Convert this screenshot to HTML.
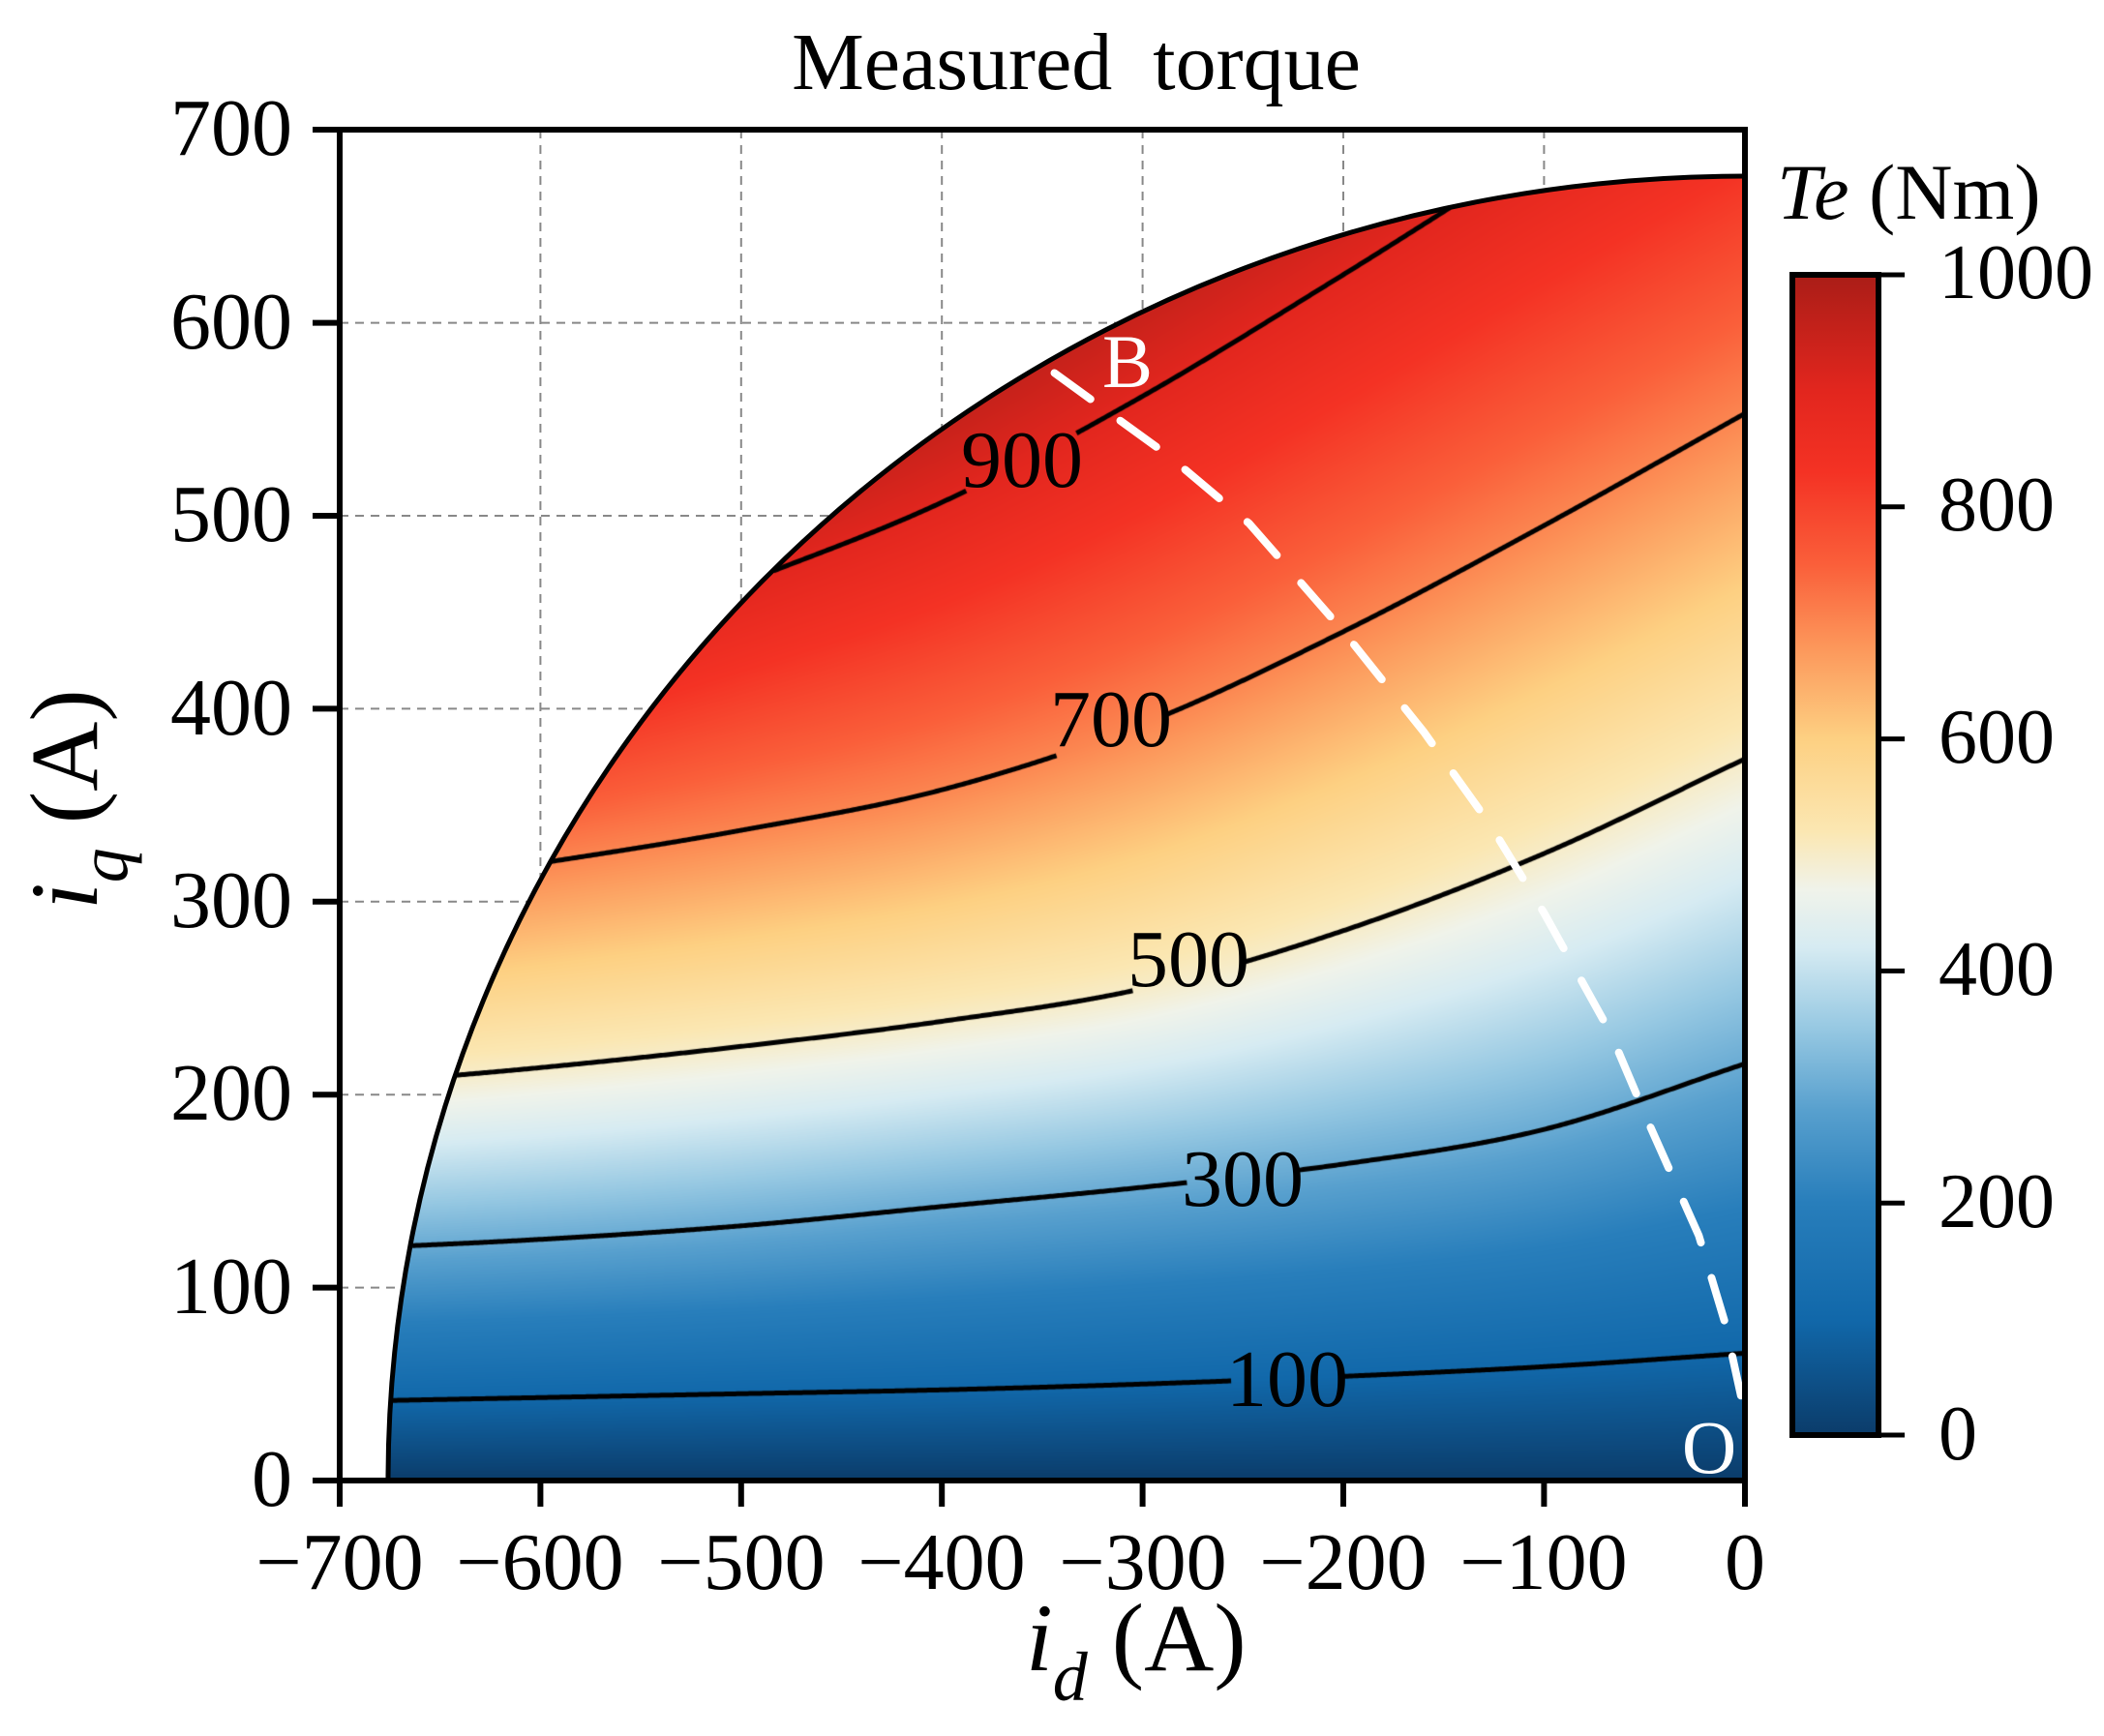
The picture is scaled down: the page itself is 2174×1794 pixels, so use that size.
<!DOCTYPE html>
<html><head><meta charset="utf-8"><style>
html,body{margin:0;padding:0;background:#fff;}
#wrap{position:relative;width:2174px;height:1794px;overflow:hidden;}
svg,canvas{position:absolute;left:0;top:0;}
text{font-family:"Liberation Serif",serif;}
</style></head><body><div id="wrap">
<svg width="2174" height="1794" id="under">
<g stroke="#888" stroke-width="2" stroke-dasharray="9 7">
<line x1="558.4" y1="134" x2="558.4" y2="1530"/><line x1="765.8" y1="134" x2="765.8" y2="1530"/><line x1="973.2" y1="134" x2="973.2" y2="1530"/><line x1="1180.6" y1="134" x2="1180.6" y2="1530"/><line x1="1388" y1="134" x2="1388" y2="1530"/><line x1="1595.4" y1="134" x2="1595.4" y2="1530"/>
<line x1="351" y1="1330.6" x2="1803" y2="1330.6"/><line x1="351" y1="1131.2" x2="1803" y2="1131.2"/><line x1="351" y1="931.8" x2="1803" y2="931.8"/><line x1="351" y1="732.4" x2="1803" y2="732.4"/><line x1="351" y1="533" x2="1803" y2="533"/><line x1="351" y1="333.6" x2="1803" y2="333.6"/>
</g></svg>
<canvas id="c" width="2174" height="1794"></canvas>
<svg width="2174" height="1794" id="over">
<defs><linearGradient id="cb" x1="0" y1="1" x2="0" y2="0">
</linearGradient></defs>
<rect id="cbr" x="1852" y="284" width="89" height="1199" fill="url(#cb)" stroke="#000" stroke-width="6"/>
<g stroke="#000" stroke-width="5">
<line x1="1941" y1="284" x2="1968" y2="284"/><line x1="1941" y1="523.8" x2="1968" y2="523.8"/><line x1="1941" y1="763.6" x2="1968" y2="763.6"/><line x1="1941" y1="1003.4" x2="1968" y2="1003.4"/><line x1="1941" y1="1243.2" x2="1968" y2="1243.2"/><line x1="1941" y1="1483" x2="1968" y2="1483"/>
</g>
<g font-size="80" fill="#000">
<text x="2003" y="308">1000</text><text x="2003" y="548">800</text><text x="2003" y="788">600</text><text x="2003" y="1028">400</text><text x="2003" y="1268">200</text><text x="2003" y="1508">0</text>
</g>
<text x="1836" y="226" font-size="82"><tspan font-style="italic">Te</tspan> (Nm)</text>
<path id="arc" d="" fill="none" stroke="#000" stroke-width="5"/>
<path id="dash" d="" fill="none" stroke="#fff" stroke-width="8" stroke-dasharray="46 38" stroke-linecap="round"/>
<g font-size="84" fill="#000" text-anchor="middle">
<text x="1056" y="503">900</text><text x="1148" y="771">700</text><text x="1228" y="1019">500</text><text x="1284" y="1246">300</text><text x="1330" y="1453">100</text>
</g>
<text x="1165" y="400" font-size="78" fill="#fff" text-anchor="middle">B</text>
<text x="1766" y="1522" font-size="78" fill="#fff" text-anchor="middle">O</text>
<rect x="351" y="134" width="1452" height="1396" fill="none" stroke="#000" stroke-width="6"/>
<g stroke="#000" stroke-width="6">
<line x1="323" y1="1530" x2="351" y2="1530"/><line x1="323" y1="1330.6" x2="351" y2="1330.6"/><line x1="323" y1="1131.2" x2="351" y2="1131.2"/><line x1="323" y1="931.8" x2="351" y2="931.8"/><line x1="323" y1="732.4" x2="351" y2="732.4"/><line x1="323" y1="533" x2="351" y2="533"/><line x1="323" y1="333.6" x2="351" y2="333.6"/><line x1="323" y1="134" x2="351" y2="134"/>
<line x1="351" y1="1530" x2="351" y2="1557"/><line x1="558.4" y1="1530" x2="558.4" y2="1557"/><line x1="765.8" y1="1530" x2="765.8" y2="1557"/><line x1="973.2" y1="1530" x2="973.2" y2="1557"/><line x1="1180.6" y1="1530" x2="1180.6" y2="1557"/><line x1="1388" y1="1530" x2="1388" y2="1557"/><line x1="1595.4" y1="1530" x2="1595.4" y2="1557"/><line x1="1803" y1="1530" x2="1803" y2="1557"/>
</g>
<g font-size="84" fill="#000" text-anchor="end">
<text x="302" y="1556">0</text><text x="302" y="1357">100</text><text x="302" y="1157">200</text><text x="302" y="958">300</text><text x="302" y="759">400</text><text x="302" y="559">500</text><text x="302" y="360">600</text><text x="302" y="160">700</text>
</g>
<g font-size="84" fill="#000" text-anchor="middle">
<text x="351" y="1642">−700</text><text x="558" y="1642">−600</text><text x="766" y="1642">−500</text><text x="973" y="1642">−400</text><text x="1181" y="1642">−300</text><text x="1388" y="1642">−200</text><text x="1595" y="1642">−100</text><text x="1803" y="1642">0</text>
</g>
<text x="1112" y="92" font-size="84" text-anchor="middle">Measured&#160;&#160;torque</text>
<text x="1060" y="1726" font-size="100"><tspan font-style="italic">i</tspan><tspan font-style="italic" font-size="72" dy="31">d</tspan><tspan dy="-31"> (A)</tspan></text>
<text transform="translate(100,940) rotate(-90)" font-size="100"><tspan font-style="italic">i</tspan><tspan font-style="italic" font-size="72" dy="31">q</tspan><tspan dy="-31"> (A)</tspan></text>
</svg>
</div>
<script>
var R=676;
function X(id){return 1803+2.074*id;}
function Y(iq){return 1530-1.994*iq;}
var knots={100:[41,43,45,47,50,54,59,66],300:[120,125,132,142,152,164,182,216],500:[205,214,225,238,255,285,325,374],700:[305,320,337,358,392,440,495,553],900:[385,425,465,507,562,625,690,750]};
function cr(arr,id){var t=(id+700)/100;if(t<0)t=0;if(t>7)t=7;var i=Math.min(6,Math.floor(t));var u=t-i;
var p0=arr[Math.max(0,i-1)],p1=arr[i],p2=arr[i+1],p3=arr[Math.min(7,i+2)];
if(i==0)p0=2*p1-p2; if(i+2>7)p3=2*p2-p1;
return 0.5*((2*p1)+(-p0+p2)*u+(2*p0-5*p1+4*p2-p3)*u*u+(-p0+3*p1-3*p2+p3)*u*u*u);}
function levels(id){var f={};for(var k in knots)f[k]=cr(knots[k],id);
return [0,f[100],(f[100]+f[300])/2,f[300],(f[300]+f[500])/2,f[500],(f[500]+f[700])/2,f[700],(f[700]+f[900])/2,f[900],f[900]+(f[900]-f[700])*0.55];}
var stops=[[0,[11,60,106]],[100,[17,104,170]],[200,[40,126,187]],[280,[88,160,206]],[350,[150,200,226]],[420,[214,235,242]],[470,[240,243,234]],[520,[251,231,178]],[600,[253,208,130]],[680,[252,150,90]],[750,[250,95,58]],[830,[244,50,36]],[900,[226,38,30]],[1000,[170,29,23]]];
function col(v){if(v<=0)return stops[0][1];for(var i=1;i<stops.length;i++){if(v<=stops[i][0]){var a=stops[i-1],b=stops[i],t=(v-a[0])/(b[0]-a[0]);return [a[1][0]+(b[1][0]-a[1][0])*t,a[1][1]+(b[1][1]-a[1][1])*t,a[1][2]+(b[1][2]-a[1][2])*t];}}return stops[stops.length-1][1];}
var c=document.getElementById('c'),ctx=c.getContext('2d');
var x0=351,x1=1803,y0=134,y1=1530,W=x1-x0,H=y1-y0;
var img=ctx.createImageData(W,H),d=img.data;
for(var px=0;px<W;px++){var id=(x0+px+0.5-1803)/2.074;var L=levels(id);
 for(var py=0;py<H;py++){var iq=(1530-(y0+py+0.5))/1.994;if(id*id+iq*iq>R*R)continue;
  var v;if(iq>=L[10])v=1000;else{var k=0;while(k<9&&iq>L[k+1])k++;v=(k+(iq-L[k])/(L[k+1]-L[k]))*100;}
  var cc=col(v),o=(py*W+px)*4;d[o]=cc[0];d[o+1]=cc[1];d[o+2]=cc[2];d[o+3]=255;}}
ctx.putImageData(img,x0,y0);
var gaps={900:[1000,1112],700:[1092,1204],500:[1172,1284],300:[1228,1340],100:[1274,1386]};
ctx.strokeStyle='#000';ctx.lineWidth=5;ctx.lineJoin='round';
for(var k in knots){ctx.beginPath();var pen=false;
 for(var id=-700;id<=0;id+=1){var iq=cr(knots[k],id);var px=X(id),py=Y(iq);
  var ok=id*id+iq*iq<=R*R && !(px>gaps[k][0]&&px<gaps[k][1]);
  if(ok){if(pen)ctx.lineTo(px,py);else{ctx.moveTo(px,py);pen=true;}}else pen=false;}
 ctx.stroke();}
document.getElementById('arc').setAttribute('d','M'+X(-R)+' 1530 A'+(R*2.074)+' '+(R*1.994)+' 0 0 1 1803 '+Y(R));
var g=document.getElementById('cb');var s='';stops.forEach(function(p){s+='<stop offset="'+(p[0]/1000)+'" stop-color="rgb('+p[1].map(Math.round).join(',')+')"/>';});g.innerHTML=s;
var pts=[[-344,574],[-287,531],[-247,496],[-200,440],[-160,388],[-127,340],[-100,294],[-67,232],[-47,183],[-23,127],[-10,82],[-2,44]];
var dd='M'+X(pts[0][0])+' '+Y(pts[0][1]);for(var i=1;i<pts.length;i++)dd+=' L'+X(pts[i][0])+' '+Y(pts[i][1]);
document.getElementById('dash').setAttribute('d',dd);
</script>
</body></html>
